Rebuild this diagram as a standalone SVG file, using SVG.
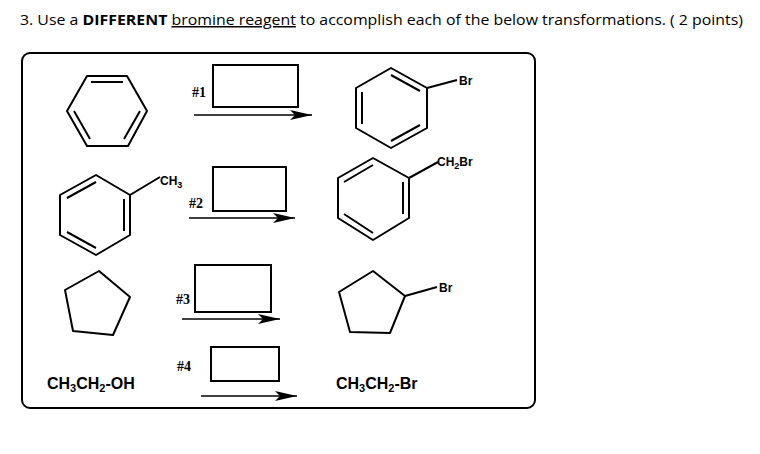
<svg xmlns="http://www.w3.org/2000/svg" width="760" height="454" viewBox="0 0 760 454">
<defs>
<marker id="ah" markerUnits="userSpaceOnUse" markerWidth="24" markerHeight="10" refX="22" refY="5" orient="auto">
<path d="M0,0 L22,5 L0,10 L5,5 Z" fill="#000"/>
</marker>
</defs>
<style>
.b{fill:none;stroke:#000;stroke-width:2;stroke-linejoin:round}
.box{fill:#fff;stroke:#000;stroke-width:2}
.ar{stroke:#000;stroke-width:1.5;marker-end:url(#ah)}
.t{font-family:"Liberation Sans",Arial,sans-serif;font-weight:bold;font-size:12px}
.f{font-family:"Liberation Sans",Arial,sans-serif;font-weight:bold;font-size:16px}
.s{font-family:"Liberation Serif","Times New Roman",serif;font-weight:bold;font-size:14px}
</style>
<rect width="760" height="454" fill="#fff"/>
<text x="20" y="25" font-family="Open Sans,Liberation Sans,sans-serif" font-size="15" textLength="723" lengthAdjust="spacingAndGlyphs">3. Use a <tspan font-weight="bold">DIFFERENT</tspan> <tspan text-decoration="underline">bromine reagent</tspan> to accomplish each of the below transformations. ( 2 points)</text>
<rect x="22" y="53" width="513" height="355" rx="8" fill="none" stroke="#000" stroke-width="2"/>
<g id="benzene">
<path class="b" d="M87,76 L127,76 L147,111 L128,146 L87,146 L67,111 Z"/>
<path class="b" d="M91,82 L123,82 M74,111 L90,139 M140,111 L124,139"/>
</g>
<g id="toluene">
<path class="b" d="M96,175 L130,195 L130,235 L96,255 L60,235 L60,195 Z M130,195 L160,177"/>
<path class="b" d="M67,198 L96,182 M124,199 L124,231 M67,232 L96,248"/>
<text class="t" x="160" y="185">CH<tspan font-size="9" dy="3">3</tspan></text>
</g>
<g id="bromobenzene">
<path class="b" d="M391,68 L427,88 L427,128 L391,148 L356,128 L356,88 Z M427,88 L457,80"/>
<path class="b" d="M391,75 L420,91 M362,92 L362,124 M391,141 L420,125"/>
<text class="t" x="459" y="85">Br</text>
</g>
<g id="benzylbromide">
<path class="b" d="M373,158 L409,178 L409,218 L373,240 L338,218 L338,178 Z M409,178 L438,162"/>
<path class="b" d="M344,182 L373,165 M403,182 L403,214 M344,214 L373,233"/>
<text class="t" x="437" y="166">CH<tspan font-size="9" dy="3">2</tspan><tspan dy="-3">Br</tspan></text>
</g>
<g id="cyclopentane">
<path class="b" d="M99,271 L130,297 L113,335 L73,331 L65,290 Z"/>
</g>
<g id="bromocyclopentane">
<path class="b" d="M373,271 L405,296 L390,333 L350,332 L339,292 Z M405,296 L437,287"/>
<text class="t" x="439" y="292">Br</text>
</g>
<g id="ethanol"><text class="f" x="47" y="389">CH<tspan font-size="11" dy="3">3</tspan><tspan dy="-3">CH</tspan><tspan font-size="11" dy="3">2</tspan><tspan dy="-3">-OH</tspan></text></g>
<g id="bromoethane"><text class="f" x="336" y="389">CH<tspan font-size="11" dy="3">3</tspan><tspan dy="-3">CH</tspan><tspan font-size="11" dy="3">2</tspan><tspan dy="-3">-Br</tspan></text></g>
<g id="reagents">
<rect class="box" x="213" y="65" width="85" height="42"/>
<text class="s" x="192" y="97">#1</text>
<rect class="box" x="213" y="167" width="73" height="44"/>
<text class="s" x="189" y="208">#2</text>
<rect class="box" x="195" y="265" width="76" height="47"/>
<text class="s" x="176" y="304">#3</text>
<rect class="box" x="211" y="347" width="68" height="34"/>
<text class="s" x="177" y="371">#4</text>
</g>
<g id="connectors">
<line class="ar" x1="194" y1="115" x2="312" y2="115"/>
<line class="ar" x1="189" y1="218" x2="295" y2="218"/>
<line class="ar" x1="182" y1="319" x2="280" y2="319"/>
<line class="ar" x1="201" y1="396" x2="297" y2="396"/>
</g>
</svg>
